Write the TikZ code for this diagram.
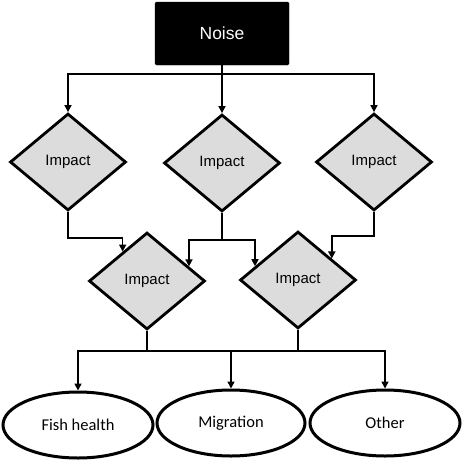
\documentclass[tikz,border=0pt]{standalone}
\usepackage{fontspec}
\newfontfamily\arialf{Liberation Sans}
\newfontfamily\calibrif{Carlito}
\usetikzlibrary{shapes.geometric,arrows.meta,calc}
\definecolor{dfill}{HTML}{DCDCDC}
\tikzset{
  noisebox/.style={rectangle, rounded corners=1.5pt, fill=black, draw=black, text=white,
    minimum width=134pt, minimum height=63pt, inner sep=0pt, font=\arialf\fontsize{17.5}{20}\selectfont},
  impactbox/.style={diamond, draw=black, line width=2.8pt, fill=dfill, aspect=1.2,
    minimum width=116pt, minimum height=97pt, inner sep=0pt, font=\arialf\fontsize{15}{17}\selectfont},
  outbox/.style={ellipse, draw=black, line width=3pt, fill=white,
    minimum width=150pt, minimum height=66pt, inner sep=0pt, font=\calibrif\fontsize{16.5}{19}\selectfont},
  conn/.style={line width=1.6pt, draw=black},
  arr/.style={conn, -{Triangle[length=7pt,width=7pt]}}
}
\begin{document}
\begin{tikzpicture}[x=1pt,y=-1pt]
\useasboundingbox (0,0) rectangle (474,474);
\node[noisebox] (noise) at (222,33.5) {Noise};
\node[impactbox] (d1) at (68,162) {Impact};
\node[impactbox] (d2) at (222,163) {Impact};
\node[impactbox] (d3) at (374,162) {Impact};
\node[impactbox] (m1) at (147,281) {Impact};
\node[impactbox] (m2) at (298,280) {Impact};
\node[outbox] (o1) at (78,425) {Fish health};
\node[outbox, minimum width=148pt] (o2) at (231,423) {Migration};
\node[outbox] (o3) at (385,423) {Other};
% top fan-out
\coordinate (jt) at ($(noise.south)+(0,9)$);
\draw[arr] (noise.south) -- (d2.north);
\draw[arr] (jt) -| (d1.north);
\draw[arr] (jt) -| (d3.north);
% edge targets
\coordinate (e1) at ($(m1.north)!0.41!(m1.west)$);
\coordinate (e2) at ($(m1.north)!0.707!(m1.east)$);
\coordinate (e3) at ($(m2.north)!0.724!(m2.west)$);
\coordinate (e4) at ($(m2.north)!0.569!(m2.east)$);
% middle connectors
\draw[arr] (d1.south) -- ++(0,26) -| (e1);
\draw[conn] (d2.south) -- ++(0,27) coordinate (jm);
\draw[arr] (jm) -| (e2);
\draw[arr] (jm) -| (e3);
\draw[arr] (d3.south) -- ++(0,24) -| (e4);
% bottom fan-out
\draw[conn] (m1.south) -- (m1.south |- 0,351) coordinate (jb1);
\draw[conn] (m2.south) -- (m2.south |- jb1) coordinate (jb2);
\draw[conn] (jb1) -- (jb2);
\draw[arr] (jb1) -| (o1.north);
\draw[arr] (jb2) -| (o3.north);
\draw[arr] (o2.north |- jb1) -- (o2.north);
\end{tikzpicture}
\end{document}
